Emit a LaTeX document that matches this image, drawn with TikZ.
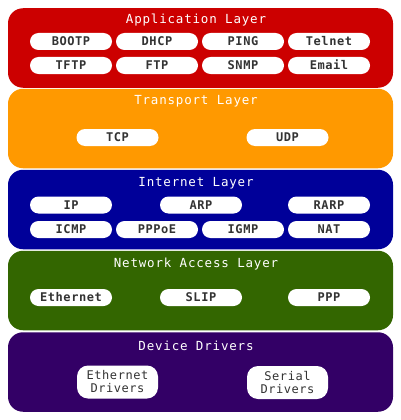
\documentclass[tikz,border=0pt]{standalone}
\usepackage{fontspec}
\newfontfamily\ttlfont[LetterSpace=6.5]{DejaVu Sans Mono}
\newfontfamily\pillfont[LetterSpace=4.5]{DejaVu Sans Mono}
\definecolor{appred}{HTML}{CC0000}
\definecolor{trorange}{HTML}{FF9900}
\definecolor{inblue}{HTML}{000099}
\definecolor{nagreen}{HTML}{336600}
\definecolor{ddpurple}{HTML}{330066}
\definecolor{pilltext}{HTML}{333333}
\begin{document}
\begin{tikzpicture}[x=1pt,y=-1pt,
  layer/.style={rounded corners=15pt, minimum width=385pt, minimum height=79.5pt, inner sep=0pt, draw=none},
  ltitle/.style={anchor=base, text=white, inner sep=0pt, font=\ttlfont\fontsize{12.5}{14}\selectfont},
  pill/.style={fill=white, rounded corners=8.5pt, minimum width=82pt, minimum height=17pt, inner sep=0pt,
    text height=8.8pt, text depth=0pt, text=pilltext, font=\pillfont\bfseries\fontsize{12}{13}\selectfont},
  bigpill/.style={fill=white, rounded corners=11pt, minimum width=81pt, minimum height=33pt, inner sep=0pt,
    align=center, text=pilltext, font=\pillfont\fontsize{12}{13}\selectfont}]
\useasboundingbox (0,0) rectangle (400,420);
\fill[white] (0,0) rectangle (400,420);
% layers
\node[layer, fill=appred]   (app) at (200.5,48) {};
\node[layer, fill=trorange] (tra) at (200.5,128.5) {};
\node[layer, fill=inblue]   (int) at (200.5,209.5) {};
\node[layer, fill=nagreen]  (net) at (200.5,290.5) {};
\node[layer, fill=ddpurple] (dev) at (200.5,372) {};
% titles
\node[ltitle] (appt) at (196,23.5) {Application Layer};
\node[ltitle] (trat) at (196,104.5) {Transport Layer};
\node[ltitle] (intt) at (196,186.5) {Internet Layer};
\node[ltitle] (nett) at (196,267.5) {Network Access Layer};
\node[ltitle] (devt) at (196,350.5) {Device Drivers};
% application
\node[pill] (bootp) at (71,41.5) {BOOTP};
\node[pill] (dhcp) at (157,41.5) {DHCP};
\node[pill] (ping) at (243,41.5) {PING};
\node[pill] (telnet) at (329,41.5) {Telnet};
\node[pill] (tftp) at (71,65.5) {TFTP};
\node[pill] (ftp) at (157,65.5) {FTP};
\node[pill] (snmp) at (243,65.5) {SNMP};
\node[pill] (email) at (329,65.5) {Email};
% transport
\node[pill] (tcp) at (117.5,137.5) {TCP};
\node[pill] (udp) at (287.5,137.5) {UDP};
% internet
\node[pill] (ip) at (71,205) {IP};
\node[pill] (arp) at (201,205) {ARP};
\node[pill] (rarp) at (329,205) {RARP};
\node[pill] (icmp) at (71,229.5) {ICMP};
\node[pill] (pppoe) at (157,229.5) {PPPoE};
\node[pill] (igmp) at (243,229.5) {IGMP};
\node[pill] (nat) at (329,229.5) {NAT};
% network access
\node[pill] (eth) at (71,297.5) {Ethernet};
\node[pill] (slip) at (201,297.5) {SLIP};
\node[pill] (ppp) at (329,297.5) {PPP};
% device drivers
\node[bigpill] (ethd) at (117.5,382) {Ethernet\\Drivers};
\node[bigpill] (serd) at (287.5,382.5) {Serial\\Drivers};
\end{tikzpicture}
\end{document}
